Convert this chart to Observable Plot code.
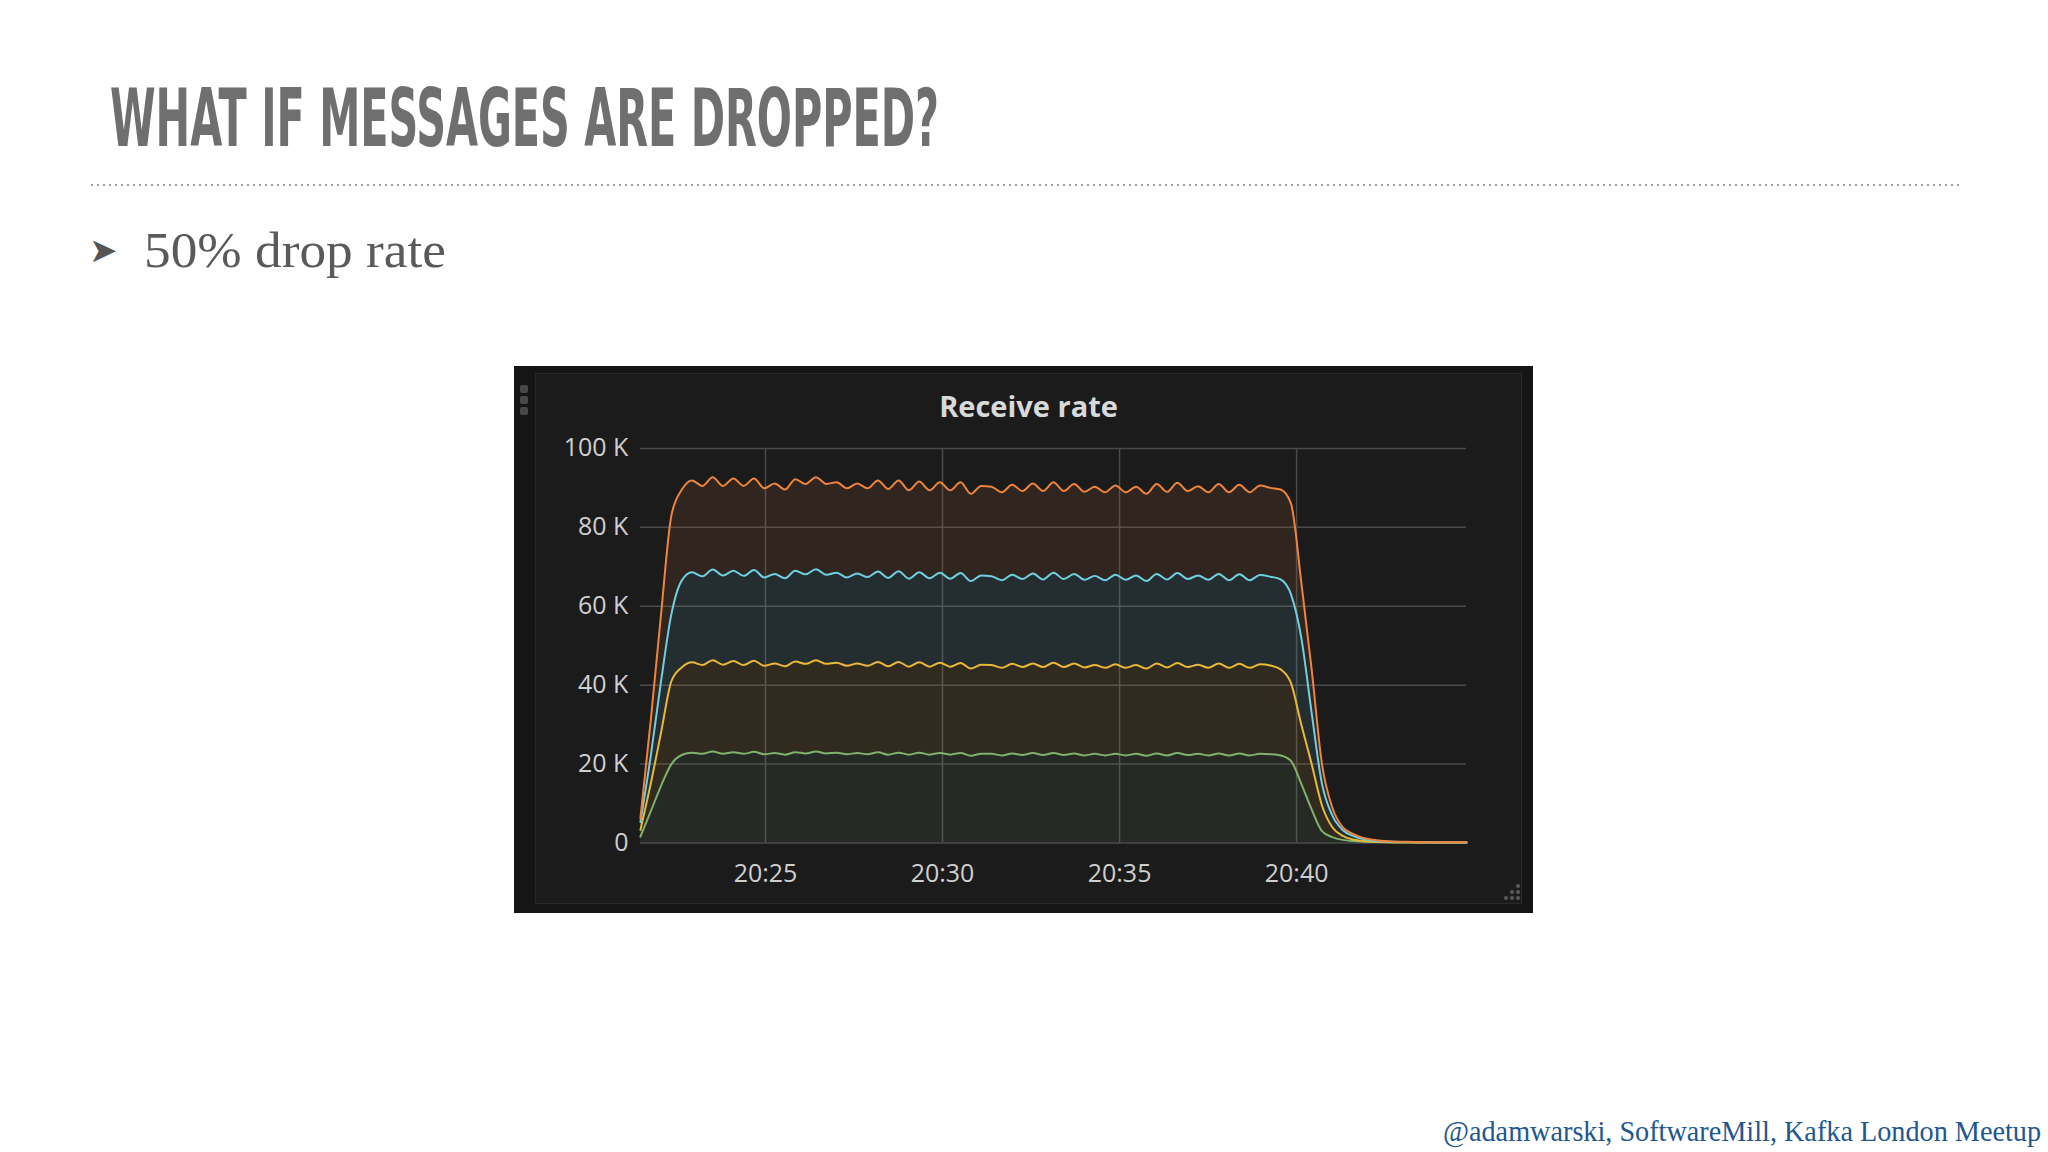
<!DOCTYPE html>
<html>
<head>
<meta charset="utf-8">
<script src="https://cdn.jsdelivr.net/npm/d3@7"></script>
<script src="https://cdn.jsdelivr.net/npm/@observablehq/plot@0.6"></script>
<style>
html, body { margin: 0; padding: 0; background: #ffffff; }
body { width: 2048px; height: 1152px; position: relative; overflow: hidden; }
#title { position: absolute; left: 110px; top: 78px; font-family: "Liberation Sans Narrow", "DejaVu Sans Condensed", "Roboto", sans-serif; font-stretch: condensed; font-weight: 700; font-size: 81px; line-height: 1; color: #6f6f6f; white-space: nowrap; transform-origin: 0 0; }
#rule { position: absolute; left: 91px; top: 184px; width: 1868px; height: 2px; background: repeating-linear-gradient(to right, #a0a0a0 0 2px, transparent 2px 6px); }
#arrow { position: absolute; left: 89px; top: 233px; font-family: "DejaVu Sans", sans-serif; font-size: 34px; line-height: 1; color: #555555; }
#bullet { position: absolute; left: 144px; top: 225px; font-family: "Liberation Serif", serif; font-size: 51px; line-height: 1; color: #5a5a5a; white-space: nowrap; transform-origin: 0 0; }
#footer { position: absolute; left: 1443px; top: 1116px; font-family: "Liberation Serif", serif; font-size: 30px; line-height: 1; color: #22578f; white-space: nowrap; transform-origin: 0 0; }
#outer { position: absolute; left: 514px; top: 366px; width: 1019px; height: 547px; background: #151515; }
#inner { position: absolute; left: 535px; top: 373px; width: 985px; height: 529px; background: #1c1b1c; border: 1px solid #282828; overflow: hidden; }
#chartTitle { position: absolute; left: -1px; width: 987px; top: 17px; text-align: center; font-family: "Open Sans", sans-serif; font-weight: 700; font-size: 29px; line-height: 1; color: #d8d9da; }
#chart { position: absolute; left: -1px; top: -1px; }
.drag { position: absolute; left: 520px; width: 8px; height: 8px; border-radius: 2px; background: #474747; }
.rz { position: absolute; width: 4px; height: 4px; border-radius: 2px; background: #5a5a5a; }
</style>
</head>
<body>
<div id="title">WHAT IF MESSAGES ARE DROPPED?</div>
<div id="rule"></div>
<div id="arrow">➤</div>
<div id="bullet">50% drop rate</div>
<div id="outer"></div>
<div class="drag" style="top:385px"></div>
<div class="drag" style="top:396px"></div>
<div class="drag" style="top:407px"></div>
<div id="inner">
  <div id="chartTitle">Receive rate</div>
  <div id="chart"></div>
</div>
<div class="rz" style="left:1516px;top:884px"></div>
<div class="rz" style="left:1516px;top:890px"></div>
<div class="rz" style="left:1510px;top:890px"></div>
<div class="rz" style="left:1516px;top:896px"></div>
<div class="rz" style="left:1510px;top:896px"></div>
<div class="rz" style="left:1504px;top:896px"></div>
<div id="footer">@adamwarski, SoftwareMill, Kafka London Meetup</div>

<script>
// ---- data: per-receiver rate in thousands of messages/s (drawn stacked) ----
const seriesNames = ["receiver 1", "receiver 2", "receiver 3", "receiver 4"];
const seriesColors = ["#7EB26D", "#EAB839", "#6ED0E0", "#EF843C"];

const startTime = "2017-05-16 20:21:28";
const stepSeconds = 17.5;
const endTime = "2017-05-16 20:44:48";

const receiver1 = [
  1.6, 8, 14.5, 20, 22.3, 22.9, 22.6, 23.2, 22.6, 23.0,
  22.6, 23.1, 22.5, 22.8, 22.4, 23.0, 22.7, 23.2, 22.7, 22.9,
  22.5, 22.8, 22.5, 23.0, 22.4, 22.9, 22.4, 22.9, 22.4, 22.8,
  22.4, 22.8, 22.1, 22.6, 22.6, 22.2, 22.7, 22.3, 22.8, 22.3,
  22.8, 22.3, 22.7, 22.2, 22.6, 22.2, 22.6, 22.2, 22.6, 22.1,
  22.7, 22.2, 22.8, 22.3, 22.6, 22.2, 22.7, 22.2, 22.7, 22.2,
  22.6, 22.5, 22.2, 20.8, 15, 8.5, 3, 1.5, 0.8, 0.5,
  0.35, 0.25, 0.2, 0.15, 0.15, 0.1, 0.1, 0.1, 0.1, 0.1,
  0.1
];
const receiver2 = [
  1.7, 7, 13.5, 21, 22.2, 22.9, 22.5, 23.1, 22.6, 23.1,
  22.5, 23.1, 22.4, 22.7, 22.4, 23.0, 22.7, 23.1, 22.7, 22.8,
  22.4, 22.7, 22.4, 22.9, 22.4, 23.0, 22.3, 22.9, 22.3, 22.9,
  22.3, 22.8, 22.1, 22.6, 22.5, 22.2, 22.7, 22.3, 22.7, 22.3,
  22.9, 22.3, 22.8, 22.3, 22.5, 22.2, 22.7, 22.2, 22.5, 22.1,
  22.8, 22.3, 22.8, 22.3, 22.6, 22.2, 22.8, 22.2, 22.7, 22.2,
  22.7, 22.5, 21.8, 19.7, 15, 11.5, 6.5, 2.5, 1.0, 0.4,
  0.15, 0.1, 0.05, 0.05, 0.05, 0.05, 0.05, 0.05, 0, 0,
  0
];
const receiver3 = [
  2.0, 7, 13, 17, 22.0, 22.8, 22.5, 23.0, 22.6, 22.9,
  22.6, 23.0, 22.4, 22.7, 22.3, 23.0, 22.7, 23.1, 22.6, 22.8,
  22.4, 22.8, 22.5, 22.9, 22.4, 23.0, 22.3, 22.8, 22.4, 22.8,
  22.3, 22.8, 22.2, 22.6, 22.5, 22.2, 22.6, 22.3, 22.8, 22.2,
  22.8, 22.3, 22.7, 22.2, 22.6, 22.2, 22.7, 22.3, 22.7, 22.2,
  22.7, 22.3, 22.8, 22.3, 22.6, 22.3, 22.7, 22.2, 22.7, 22.2,
  22.6, 22.5, 22.8, 22.5, 22, 13, 5.5, 3, 1.5, 0.9,
  0.5, 0.25, 0.15, 0.1, 0.05, 0.05, 0.05, 0, 0.05, 0.05,
  0.05
];
const receiver4 = [
  1.0, 9, 17, 25, 23.0, 23.3, 22.9, 23.4, 22.7, 23.4,
  22.8, 23.2, 22.6, 22.9, 22.5, 23.2, 22.9, 23.3, 23.0, 22.9,
  22.6, 22.8, 22.5, 23.1, 22.5, 23.0, 22.4, 23.0, 22.3, 22.9,
  22.4, 23.0, 22.1, 22.7, 22.7, 22.3, 22.8, 22.3, 22.8, 22.4,
  22.9, 22.3, 22.8, 22.3, 22.6, 22.3, 22.6, 22.2, 22.5, 22.1,
  22.8, 22.2, 22.9, 22.3, 22.6, 22.2, 22.8, 22.3, 22.7, 22.3,
  22.7, 22.5, 22.8, 23, 14, 11, 5, 2, 0.7, 0.5,
  0.3, 0.2, 0.1, 0.05, 0.05, 0.05, 0, 0.05, 0.05, 0.05,
  0.05
];

const xTickLabels = ["20:25", "20:30", "20:35", "20:40"];
const yTickValues = [0, 20, 40, 60, 80, 100];

// ---- build table ----
const parseFull = d3.utcParse("%Y-%m-%d %H:%M:%S");
const t0 = parseFull(startTime);
const t1 = parseFull(endTime);
const allSeries = [receiver1, receiver2, receiver3, receiver4];
const table = [];
allSeries.forEach((vals, k) => {
  vals.forEach((v, i) => {
    table.push({ series: seriesNames[k], time: new Date(+t0 + i * stepSeconds * 1000), value: v });
  });
});
const xTicks = xTickLabels.map(s => parseFull("2017-05-16 " + s + ":00"));

const chart = Plot.plot({
  width: 987,
  height: 531,
  marginLeft: 105,
  marginRight: 55,
  marginTop: 75,
  marginBottom: 61,
  style: { background: "transparent", color: "#cfcfcf", fontFamily: "'Open Sans', sans-serif", fontSize: "25px" },
  x: { type: "utc", domain: [t0, t1], ticks: xTicks, tickFormat: d3.utcFormat("%H:%M"), tickSize: 0, tickPadding: 21, label: null },
  y: { domain: [0, 100], ticks: yTickValues, tickFormat: d => d === 0 ? "0" : `${d} K`, tickSize: 0, tickPadding: 12, label: null },
  color: { domain: seriesNames, range: seriesColors },
  marks: [
    Plot.gridY(yTickValues, { stroke: "#4a4a4a", strokeOpacity: 1, strokeWidth: 1.5 }),
    Plot.gridX(xTicks, { stroke: "#4a4a4a", strokeOpacity: 1, strokeWidth: 1.5 }),
    Plot.areaY(table, Plot.stackY({ x: "time", y: "value", z: "series", fill: "series", fillOpacity: 0.1, curve: "monotone-x" })),
    Plot.lineY(table, Plot.stackY2({ x: "time", y: "value", z: "series", stroke: "series", strokeWidth: 2, curve: "monotone-x" }))
  ]
});
document.getElementById("chart").appendChild(chart);

// fit slide text widths to the reference
function fitWidth(id, target) {
  const el = document.getElementById(id);
  const w = el.getBoundingClientRect().width;
  if (w > 0) el.style.transform = `scaleX(${target / w})`;
}
fitWidth("title", 829);
fitWidth("bullet", 302);
fitWidth("footer", 598);
</script>
</body>
</html>
